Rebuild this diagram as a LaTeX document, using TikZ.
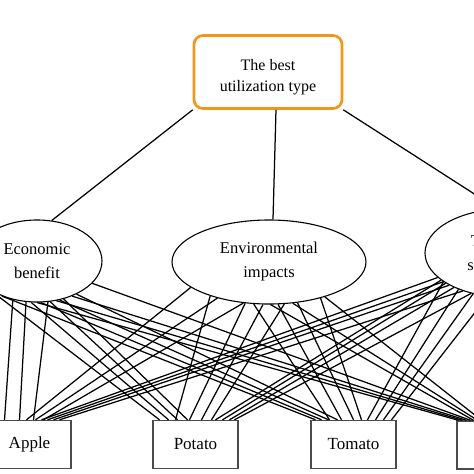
\documentclass[tikz,border=0pt]{standalone}
\usepackage{fontspec}
\setmainfont{Liberation Serif}
\usetikzlibrary{shapes.geometric,calc}
\definecolor{goalorange}{RGB}{240,150,25}
\definecolor{boxgray}{RGB}{75,75,75}
\tikzset{
  goalbox/.style={draw=goalorange, line width=2.6pt, rounded corners=9pt, fill=white,
    minimum width=148pt, minimum height=73pt, align=center, inner sep=0pt,
    font=\fontsize{16}{21}\selectfont},
  crit/.style={ellipse, draw=black, line width=1.1pt, fill=white, align=center, inner sep=0pt,
    font=\fontsize{16.5}{24}\selectfont},
  alt/.style={draw=boxgray, line width=1.4pt, fill=white, minimum width=85pt, minimum height=48pt,
    inner sep=0pt, font=\fontsize{17}{20}\selectfont},
  link/.style={draw=black, line width=1.25pt}
}
\begin{document}
\begin{tikzpicture}[x=1pt,y=-1pt]
\clip (0,0) rectangle (474,474);
\fill[white] (0,0) rectangle (474,474);

\node[goalbox] (goal) at (268,72) {\raisebox{-9pt}[0pt][0pt]{\begin{tabular}{@{}c@{}}The best\\[0pt]utilization type\end{tabular}}};

\node[crit, minimum width=130pt, minimum height=82pt] (E1) at (37,261) {Economic\\benefit};
\node[crit, minimum width=194pt, minimum height=84pt] (E2) at (269,262) {Environmental\\impacts};
\node[crit, minimum width=160pt, minimum height=88pt] (E3) at (505,253) {The social\\satisfaction};

\node[alt, minimum width=83pt] (B1) at (29.5,444.5) {Apple};
\node[alt] (B2) at (195.5,444.5) {Potato};
\node[alt] (B3) at (353.5,444.5) {Tomato};
\node[alt] (B4) at (499.5,445) {};

\draw[link] (goal.south west) -- (E1.70);
\draw[link] (goal.south -| 276,0) -- (E2.north -| 273,0);
\draw[link] (goal.south east) -- (E3.100);

\foreach \e/\a/\b/\d in {
  E1/238/B1/-25, E1/255/B1/-10, E1/285/B1/4,
  E1/212/B2/-36, E1/262/B2/-27, E1/288/B2/-18, E1/305/B2/-8,
  E1/225/B3/-38, E1/275/B3/-32, E1/300/B3/-25, E1/320/B3/-16,
  E1/270/B4/-41, E1/296/B4/-37, E1/315/B4/-33, E1/338/B4/-29,
  E2/198/B1/-3,  E2/215/B1/6,   E2/238/B1/14,
  E2/210/B2/-20, E2/240/B2/-6,  E2/262/B2/6,  E2/290/B2/16,
  E2/250/B3/-24, E2/282/B3/-12, E2/305/B3/0,  E2/325/B3/8,
  E2/272/B4/-26, E2/300/B4/-22, E2/328/B4/-18,
  E3/200/B1/12,  E3/205/B1/18,  E3/210/B1/24, E3/222/B1/30,
  E3/203/B2/20,  E3/207/B2/27,  E3/214/B2/34, E3/230/B2/39,
  E3/205/B3/14,  E3/218/B3/22,  E3/232/B3/30, E3/248/B3/38,
  E3/255/B4/0,   E3/265/B4/10,  E3/275/B4/20}
{
  \draw[link] (\e.\a) -- ($(\b.north)+(\d,0)$);
}
\end{tikzpicture}
\end{document}
